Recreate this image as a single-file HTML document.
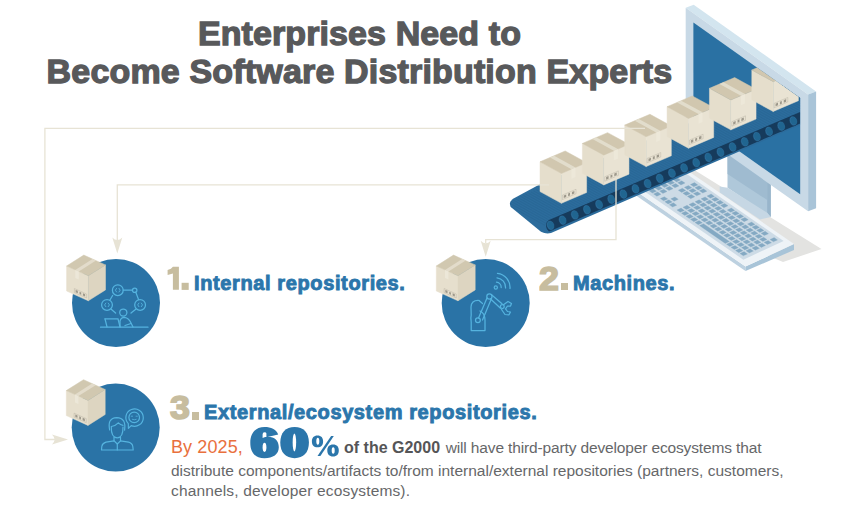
<!DOCTYPE html>
<html><head><meta charset="utf-8"><style>
html,body{margin:0;padding:0;background:#fff;}
body{width:855px;height:506px;position:relative;overflow:hidden;font-family:"Liberation Sans",sans-serif;}
svg{position:absolute;left:0;top:0;}
.t{position:absolute;white-space:nowrap;line-height:1;}
.title{font-weight:700;color:#58595b;font-size:34px;letter-spacing:0.1px;-webkit-text-stroke:1.3px #58595b;left:0;width:719px;text-align:center;}
.num{font-weight:700;color:#c7bd9f;font-size:33.5px;-webkit-text-stroke:1.6px #c7bd9f;transform:scaleX(1.07);transform-origin:0 0;}
.hd{font-weight:700;color:#2b76ab;font-size:20px;letter-spacing:0.62px;-webkit-text-stroke:0.9px #2b76ab;}
.p{color:#666769;font-size:15.5px;}
</style></head><body>
<svg width="855" height="506" viewBox="0 0 855 506">
<polygon points="688.00,166.00 821.50,249.00 783.00,262.00 660.00,210.00" fill="#e3e3e1" />
<polygon points="727.50,150.00 770.80,178.00 770.80,216.90 727.50,187.80" fill="#afc8da" />
<polygon points="727.50,150.00 767.20,176.00 767.20,200.00 727.50,174.00" fill="#9fbbd0" />
<polygon points="767.20,176.00 770.80,178.00 770.80,216.90 767.20,212.70" fill="#98b5cb" />
<polygon points="719.70,186.50 727.50,187.80 767.20,212.70 770.80,216.90 760.00,219.50 719.70,192.50" fill="#c6d7e4" />
<polygon points="625.50,183.80 745.50,266.60 745.50,271.10 625.50,188.30" fill="#bdd1e0" />
<polygon points="745.50,266.60 794.00,244.00 794.00,250.00 745.50,271.10" fill="#a8c4d8" />
<polygon points="625.50,183.80 745.50,266.60 794.00,244.00 674.00,161.20" fill="#eef3f7" />
<polygon points="630.20,181.61 743.36,259.69 783.62,240.93 670.46,162.85" fill="#cddbe6" />
<polygon points="770.01,239.50 773.37,241.82 777.50,239.90 774.13,237.58" fill="#84a9c3" stroke="#84a9c3" stroke-width="0.25" stroke-linejoin="round"/>
<polygon points="761.01,233.29 764.37,235.61 768.50,233.69 765.13,231.37" fill="#84a9c3" stroke="#84a9c3" stroke-width="0.25" stroke-linejoin="round"/>
<polygon points="756.51,230.19 759.87,232.51 764.00,230.58 760.63,228.27" fill="#84a9c3" stroke="#84a9c3" stroke-width="0.25" stroke-linejoin="round"/>
<polygon points="752.01,227.08 755.37,229.40 759.50,227.48 756.13,225.16" fill="#84a9c3" stroke="#84a9c3" stroke-width="0.25" stroke-linejoin="round"/>
<polygon points="747.51,223.98 750.87,226.30 755.00,224.38 751.63,222.06" fill="#84a9c3" stroke="#84a9c3" stroke-width="0.25" stroke-linejoin="round"/>
<polygon points="740.76,219.32 744.12,221.64 748.25,219.72 744.88,217.40" fill="#84a9c3" stroke="#84a9c3" stroke-width="0.25" stroke-linejoin="round"/>
<polygon points="736.26,216.22 739.62,218.53 743.75,216.61 740.38,214.29" fill="#84a9c3" stroke="#84a9c3" stroke-width="0.25" stroke-linejoin="round"/>
<polygon points="731.76,213.11 735.12,215.43 739.25,213.51 735.88,211.19" fill="#84a9c3" stroke="#84a9c3" stroke-width="0.25" stroke-linejoin="round"/>
<polygon points="727.26,210.01 730.62,212.32 734.75,210.40 731.38,208.08" fill="#84a9c3" stroke="#84a9c3" stroke-width="0.25" stroke-linejoin="round"/>
<polygon points="720.51,205.35 723.87,207.67 728.00,205.75 724.63,203.43" fill="#84a9c3" stroke="#84a9c3" stroke-width="0.25" stroke-linejoin="round"/>
<polygon points="716.01,202.24 719.37,204.56 723.50,202.64 720.13,200.32" fill="#84a9c3" stroke="#84a9c3" stroke-width="0.25" stroke-linejoin="round"/>
<polygon points="711.51,199.14 714.87,201.46 719.00,199.53 715.63,197.22" fill="#84a9c3" stroke="#84a9c3" stroke-width="0.25" stroke-linejoin="round"/>
<polygon points="707.01,196.03 710.37,198.35 714.50,196.43 711.13,194.11" fill="#84a9c3" stroke="#84a9c3" stroke-width="0.25" stroke-linejoin="round"/>
<polygon points="699.36,190.75 702.72,193.07 706.85,191.15 703.49,188.83" fill="#84a9c3" stroke="#84a9c3" stroke-width="0.25" stroke-linejoin="round"/>
<polygon points="694.86,187.65 698.22,189.97 702.35,188.05 698.99,185.73" fill="#84a9c3" stroke="#84a9c3" stroke-width="0.25" stroke-linejoin="round"/>
<polygon points="690.36,184.54 693.72,186.86 697.85,184.94 694.49,182.62" fill="#84a9c3" stroke="#84a9c3" stroke-width="0.25" stroke-linejoin="round"/>
<polygon points="745.96,250.71 749.32,253.03 753.44,251.11 750.08,248.79" fill="#84a9c3" stroke="#84a9c3" stroke-width="0.25" stroke-linejoin="round"/>
<polygon points="741.46,247.61 744.82,249.93 748.94,248.00 745.58,245.69" fill="#84a9c3" stroke="#84a9c3" stroke-width="0.25" stroke-linejoin="round"/>
<polygon points="736.96,244.50 740.32,246.82 744.44,244.90 741.08,242.58" fill="#84a9c3" stroke="#84a9c3" stroke-width="0.25" stroke-linejoin="round"/>
<polygon points="732.46,241.40 735.82,243.72 739.94,241.79 736.58,239.48" fill="#84a9c3" stroke="#84a9c3" stroke-width="0.25" stroke-linejoin="round"/>
<polygon points="727.96,238.29 731.32,240.61 735.44,238.69 732.08,236.37" fill="#84a9c3" stroke="#84a9c3" stroke-width="0.25" stroke-linejoin="round"/>
<polygon points="723.46,235.19 726.82,237.51 730.94,235.58 727.58,233.27" fill="#84a9c3" stroke="#84a9c3" stroke-width="0.25" stroke-linejoin="round"/>
<polygon points="718.96,232.08 722.32,234.40 726.44,232.48 723.08,230.16" fill="#84a9c3" stroke="#84a9c3" stroke-width="0.25" stroke-linejoin="round"/>
<polygon points="714.46,228.98 717.82,231.30 721.94,229.37 718.58,227.06" fill="#84a9c3" stroke="#84a9c3" stroke-width="0.25" stroke-linejoin="round"/>
<polygon points="709.96,225.87 713.32,228.19 717.44,226.27 714.08,223.95" fill="#84a9c3" stroke="#84a9c3" stroke-width="0.25" stroke-linejoin="round"/>
<polygon points="705.46,222.77 708.82,225.09 712.94,223.16 709.58,220.85" fill="#84a9c3" stroke="#84a9c3" stroke-width="0.25" stroke-linejoin="round"/>
<polygon points="700.96,219.66 704.32,221.98 708.44,220.06 705.08,217.74" fill="#84a9c3" stroke="#84a9c3" stroke-width="0.25" stroke-linejoin="round"/>
<polygon points="696.46,216.56 699.82,218.88 703.94,216.95 700.58,214.64" fill="#84a9c3" stroke="#84a9c3" stroke-width="0.25" stroke-linejoin="round"/>
<polygon points="691.96,213.45 695.32,215.77 699.44,213.85 696.08,211.53" fill="#84a9c3" stroke="#84a9c3" stroke-width="0.25" stroke-linejoin="round"/>
<polygon points="687.46,210.35 690.82,212.67 694.94,210.74 691.58,208.43" fill="#84a9c3" stroke="#84a9c3" stroke-width="0.25" stroke-linejoin="round"/>
<polygon points="682.96,207.24 686.32,209.56 690.44,207.64 687.08,205.32" fill="#84a9c3" stroke="#84a9c3" stroke-width="0.25" stroke-linejoin="round"/>
<polygon points="751.97,247.91 755.33,250.23 759.45,248.31 756.09,245.99" fill="#84a9c3" stroke="#84a9c3" stroke-width="0.25" stroke-linejoin="round"/>
<polygon points="747.47,244.80 750.83,247.12 754.95,245.20 751.59,242.88" fill="#84a9c3" stroke="#84a9c3" stroke-width="0.25" stroke-linejoin="round"/>
<polygon points="742.97,241.70 746.33,244.02 750.45,242.10 747.09,239.78" fill="#84a9c3" stroke="#84a9c3" stroke-width="0.25" stroke-linejoin="round"/>
<polygon points="738.47,238.59 741.83,240.91 745.95,238.99 742.59,236.67" fill="#84a9c3" stroke="#84a9c3" stroke-width="0.25" stroke-linejoin="round"/>
<polygon points="733.97,235.49 737.33,237.81 741.45,235.89 738.09,233.57" fill="#84a9c3" stroke="#84a9c3" stroke-width="0.25" stroke-linejoin="round"/>
<polygon points="729.47,232.38 732.83,234.70 736.95,232.78 733.59,230.46" fill="#84a9c3" stroke="#84a9c3" stroke-width="0.25" stroke-linejoin="round"/>
<polygon points="724.97,229.28 728.33,231.60 732.45,229.68 729.09,227.36" fill="#84a9c3" stroke="#84a9c3" stroke-width="0.25" stroke-linejoin="round"/>
<polygon points="720.47,226.17 723.83,228.49 727.95,226.57 724.59,224.25" fill="#84a9c3" stroke="#84a9c3" stroke-width="0.25" stroke-linejoin="round"/>
<polygon points="715.97,223.07 719.33,225.39 723.45,223.47 720.09,221.15" fill="#84a9c3" stroke="#84a9c3" stroke-width="0.25" stroke-linejoin="round"/>
<polygon points="711.47,219.96 714.83,222.28 718.95,220.36 715.59,218.04" fill="#84a9c3" stroke="#84a9c3" stroke-width="0.25" stroke-linejoin="round"/>
<polygon points="706.97,216.86 710.33,219.18 714.45,217.26 711.09,214.94" fill="#84a9c3" stroke="#84a9c3" stroke-width="0.25" stroke-linejoin="round"/>
<polygon points="702.47,213.75 705.83,216.07 709.95,214.15 706.59,211.83" fill="#84a9c3" stroke="#84a9c3" stroke-width="0.25" stroke-linejoin="round"/>
<polygon points="697.97,210.65 701.33,212.97 705.45,211.05 702.09,208.73" fill="#84a9c3" stroke="#84a9c3" stroke-width="0.25" stroke-linejoin="round"/>
<polygon points="693.47,207.54 696.83,209.86 700.95,207.94 697.59,205.62" fill="#84a9c3" stroke="#84a9c3" stroke-width="0.25" stroke-linejoin="round"/>
<polygon points="688.97,204.44 692.33,206.76 696.45,204.84 693.09,202.52" fill="#84a9c3" stroke="#84a9c3" stroke-width="0.25" stroke-linejoin="round"/>
<polygon points="757.98,245.11 761.34,247.43 765.47,245.50 762.11,243.19" fill="#84a9c3" stroke="#84a9c3" stroke-width="0.25" stroke-linejoin="round"/>
<polygon points="753.48,242.00 756.84,244.32 760.97,242.40 757.61,240.08" fill="#84a9c3" stroke="#84a9c3" stroke-width="0.25" stroke-linejoin="round"/>
<polygon points="748.98,238.90 752.34,241.22 756.47,239.29 753.11,236.98" fill="#84a9c3" stroke="#84a9c3" stroke-width="0.25" stroke-linejoin="round"/>
<polygon points="744.48,235.79 747.84,238.11 751.97,236.19 748.61,233.87" fill="#84a9c3" stroke="#84a9c3" stroke-width="0.25" stroke-linejoin="round"/>
<polygon points="739.98,232.69 743.34,235.01 747.47,233.08 744.11,230.77" fill="#84a9c3" stroke="#84a9c3" stroke-width="0.25" stroke-linejoin="round"/>
<polygon points="735.48,229.58 738.84,231.90 742.97,229.98 739.61,227.66" fill="#84a9c3" stroke="#84a9c3" stroke-width="0.25" stroke-linejoin="round"/>
<polygon points="730.98,226.48 734.34,228.80 738.47,226.87 735.11,224.56" fill="#84a9c3" stroke="#84a9c3" stroke-width="0.25" stroke-linejoin="round"/>
<polygon points="726.48,223.37 729.84,225.69 733.97,223.77 730.61,221.45" fill="#84a9c3" stroke="#84a9c3" stroke-width="0.25" stroke-linejoin="round"/>
<polygon points="721.98,220.27 725.34,222.59 729.47,220.66 726.11,218.35" fill="#84a9c3" stroke="#84a9c3" stroke-width="0.25" stroke-linejoin="round"/>
<polygon points="717.48,217.16 720.84,219.48 724.97,217.56 721.61,215.24" fill="#84a9c3" stroke="#84a9c3" stroke-width="0.25" stroke-linejoin="round"/>
<polygon points="712.98,214.06 716.34,216.38 720.47,214.45 717.11,212.14" fill="#84a9c3" stroke="#84a9c3" stroke-width="0.25" stroke-linejoin="round"/>
<polygon points="708.48,210.95 711.84,213.27 715.97,211.35 712.61,209.03" fill="#84a9c3" stroke="#84a9c3" stroke-width="0.25" stroke-linejoin="round"/>
<polygon points="703.98,207.85 707.34,210.17 711.47,208.24 708.11,205.93" fill="#84a9c3" stroke="#84a9c3" stroke-width="0.25" stroke-linejoin="round"/>
<polygon points="699.48,204.74 702.84,207.06 706.97,205.14 703.61,202.82" fill="#84a9c3" stroke="#84a9c3" stroke-width="0.25" stroke-linejoin="round"/>
<polygon points="694.98,201.64 698.34,203.96 702.47,202.03 699.11,199.72" fill="#84a9c3" stroke="#84a9c3" stroke-width="0.25" stroke-linejoin="round"/>
<polygon points="764.00,242.31 767.36,244.62 771.48,242.70 768.12,240.38" fill="#84a9c3" stroke="#84a9c3" stroke-width="0.25" stroke-linejoin="round"/>
<polygon points="759.50,239.20 762.86,241.52 766.98,239.60 763.62,237.28" fill="#84a9c3" stroke="#84a9c3" stroke-width="0.25" stroke-linejoin="round"/>
<polygon points="755.00,236.09 758.36,238.41 762.48,236.49 759.12,234.17" fill="#84a9c3" stroke="#84a9c3" stroke-width="0.25" stroke-linejoin="round"/>
<polygon points="750.50,232.99 753.86,235.31 757.98,233.39 754.62,231.07" fill="#84a9c3" stroke="#84a9c3" stroke-width="0.25" stroke-linejoin="round"/>
<polygon points="746.00,229.88 749.36,232.20 753.48,230.28 750.12,227.96" fill="#84a9c3" stroke="#84a9c3" stroke-width="0.25" stroke-linejoin="round"/>
<polygon points="741.50,226.78 744.86,229.10 748.98,227.18 745.62,224.86" fill="#84a9c3" stroke="#84a9c3" stroke-width="0.25" stroke-linejoin="round"/>
<polygon points="737.00,223.68 740.36,225.99 744.48,224.07 741.12,221.75" fill="#84a9c3" stroke="#84a9c3" stroke-width="0.25" stroke-linejoin="round"/>
<polygon points="732.50,220.57 735.86,222.89 739.98,220.97 736.62,218.65" fill="#84a9c3" stroke="#84a9c3" stroke-width="0.25" stroke-linejoin="round"/>
<polygon points="728.00,217.47 731.36,219.78 735.48,217.86 732.12,215.54" fill="#84a9c3" stroke="#84a9c3" stroke-width="0.25" stroke-linejoin="round"/>
<polygon points="723.50,214.36 726.86,216.68 730.98,214.76 727.62,212.44" fill="#84a9c3" stroke="#84a9c3" stroke-width="0.25" stroke-linejoin="round"/>
<polygon points="719.00,211.25 722.36,213.57 726.48,211.65 723.12,209.33" fill="#84a9c3" stroke="#84a9c3" stroke-width="0.25" stroke-linejoin="round"/>
<polygon points="714.50,208.15 717.86,210.47 721.98,208.55 718.62,206.23" fill="#84a9c3" stroke="#84a9c3" stroke-width="0.25" stroke-linejoin="round"/>
<polygon points="710.00,205.05 713.36,207.36 717.48,205.44 714.12,203.12" fill="#84a9c3" stroke="#84a9c3" stroke-width="0.25" stroke-linejoin="round"/>
<polygon points="705.50,201.94 708.86,204.26 712.98,202.34 709.62,200.02" fill="#84a9c3" stroke="#84a9c3" stroke-width="0.25" stroke-linejoin="round"/>
<polygon points="701.00,198.84 704.36,201.15 708.48,199.23 705.12,196.91" fill="#84a9c3" stroke="#84a9c3" stroke-width="0.25" stroke-linejoin="round"/>
<polygon points="739.94,253.51 743.30,255.83 747.42,253.91 744.07,251.59" fill="#84a9c3" stroke="#84a9c3" stroke-width="0.25" stroke-linejoin="round"/>
<polygon points="735.44,250.41 738.80,252.73 742.92,250.81 739.57,248.49" fill="#84a9c3" stroke="#84a9c3" stroke-width="0.25" stroke-linejoin="round"/>
<polygon points="730.94,247.30 734.30,249.62 738.42,247.70 735.07,245.38" fill="#84a9c3" stroke="#84a9c3" stroke-width="0.25" stroke-linejoin="round"/>
<polygon points="726.44,244.20 729.80,246.52 733.92,244.60 730.57,242.28" fill="#84a9c3" stroke="#84a9c3" stroke-width="0.25" stroke-linejoin="round"/>
<polygon points="694.94,222.46 698.30,224.78 702.42,222.86 699.07,220.54" fill="#84a9c3" stroke="#84a9c3" stroke-width="0.25" stroke-linejoin="round"/>
<polygon points="690.44,219.36 693.80,221.68 697.92,219.76 694.57,217.44" fill="#84a9c3" stroke="#84a9c3" stroke-width="0.25" stroke-linejoin="round"/>
<polygon points="685.94,216.25 689.30,218.57 693.42,216.65 690.07,214.33" fill="#84a9c3" stroke="#84a9c3" stroke-width="0.25" stroke-linejoin="round"/>
<polygon points="681.44,213.15 684.80,215.47 688.92,213.55 685.57,211.23" fill="#84a9c3" stroke="#84a9c3" stroke-width="0.25" stroke-linejoin="round"/>
<polygon points="676.94,210.04 680.30,212.36 684.42,210.44 681.07,208.12" fill="#84a9c3" stroke="#84a9c3" stroke-width="0.25" stroke-linejoin="round"/>
<polygon points="699.44,225.57 725.30,243.41 729.42,241.49 703.57,223.65" fill="#84a9c3" stroke="#84a9c3" stroke-width="0.25" stroke-linejoin="round"/>
<polygon points="687.33,196.36 690.69,198.68 694.82,196.76 691.46,194.44" fill="#84a9c3" stroke="#84a9c3" stroke-width="0.25" stroke-linejoin="round"/>
<polygon points="682.83,193.25 686.19,195.57 690.32,193.65 686.96,191.33" fill="#84a9c3" stroke="#84a9c3" stroke-width="0.25" stroke-linejoin="round"/>
<polygon points="678.33,190.15 681.69,192.47 685.82,190.55 682.46,188.23" fill="#84a9c3" stroke="#84a9c3" stroke-width="0.25" stroke-linejoin="round"/>
<polygon points="693.35,193.56 696.71,195.87 700.83,193.95 697.47,191.64" fill="#84a9c3" stroke="#84a9c3" stroke-width="0.25" stroke-linejoin="round"/>
<polygon points="688.85,190.45 692.21,192.77 696.33,190.85 692.97,188.53" fill="#84a9c3" stroke="#84a9c3" stroke-width="0.25" stroke-linejoin="round"/>
<polygon points="684.35,187.35 687.71,189.66 691.83,187.74 688.47,185.43" fill="#84a9c3" stroke="#84a9c3" stroke-width="0.25" stroke-linejoin="round"/>
<polygon points="670.81,198.86 674.17,201.18 678.29,199.26 674.93,196.94" fill="#84a9c3" stroke="#84a9c3" stroke-width="0.25" stroke-linejoin="round"/>
<polygon points="669.29,204.77 672.65,207.08 676.77,205.16 673.41,202.85" fill="#84a9c3" stroke="#84a9c3" stroke-width="0.25" stroke-linejoin="round"/>
<polygon points="664.79,201.66 668.15,203.98 672.27,202.06 668.91,199.74" fill="#84a9c3" stroke="#84a9c3" stroke-width="0.25" stroke-linejoin="round"/>
<polygon points="660.29,198.56 663.65,200.87 667.77,198.95 664.41,196.64" fill="#84a9c3" stroke="#84a9c3" stroke-width="0.25" stroke-linejoin="round"/>
<polygon points="659.56,191.10 662.92,193.41 667.04,191.49 663.68,189.18" fill="#84a9c3" stroke="#84a9c3" stroke-width="0.25" stroke-linejoin="round"/>
<polygon points="655.06,187.99 658.42,190.31 662.54,188.39 659.18,186.07" fill="#84a9c3" stroke="#84a9c3" stroke-width="0.25" stroke-linejoin="round"/>
<polygon points="650.56,184.89 653.92,187.20 658.04,185.28 654.68,182.97" fill="#84a9c3" stroke="#84a9c3" stroke-width="0.25" stroke-linejoin="round"/>
<polygon points="646.06,181.78 649.42,184.10 653.54,182.18 650.18,179.86" fill="#84a9c3" stroke="#84a9c3" stroke-width="0.25" stroke-linejoin="round"/>
<polygon points="665.57,188.29 668.93,190.61 673.05,188.69 669.69,186.37" fill="#84a9c3" stroke="#84a9c3" stroke-width="0.25" stroke-linejoin="round"/>
<polygon points="661.07,185.19 664.43,187.51 668.55,185.59 665.19,183.27" fill="#84a9c3" stroke="#84a9c3" stroke-width="0.25" stroke-linejoin="round"/>
<polygon points="656.57,182.08 659.93,184.40 664.05,182.48 660.69,180.16" fill="#84a9c3" stroke="#84a9c3" stroke-width="0.25" stroke-linejoin="round"/>
<polygon points="652.07,178.98 655.43,181.30 659.55,179.38 656.19,177.06" fill="#84a9c3" stroke="#84a9c3" stroke-width="0.25" stroke-linejoin="round"/>
<polygon points="671.58,185.49 674.94,187.81 679.07,185.89 675.71,183.57" fill="#84a9c3" stroke="#84a9c3" stroke-width="0.25" stroke-linejoin="round"/>
<polygon points="667.08,182.39 670.44,184.70 674.57,182.78 671.21,180.47" fill="#84a9c3" stroke="#84a9c3" stroke-width="0.25" stroke-linejoin="round"/>
<polygon points="662.58,179.28 665.94,181.60 670.07,179.68 666.71,177.36" fill="#84a9c3" stroke="#84a9c3" stroke-width="0.25" stroke-linejoin="round"/>
<polygon points="658.08,176.18 661.44,178.49 665.57,176.57 662.21,174.26" fill="#84a9c3" stroke="#84a9c3" stroke-width="0.25" stroke-linejoin="round"/>
<polygon points="677.60,182.69 680.96,185.01 685.08,183.09 681.72,180.77" fill="#84a9c3" stroke="#84a9c3" stroke-width="0.25" stroke-linejoin="round"/>
<polygon points="673.10,179.58 676.46,181.90 680.58,179.98 677.22,177.66" fill="#84a9c3" stroke="#84a9c3" stroke-width="0.25" stroke-linejoin="round"/>
<polygon points="668.60,176.48 671.96,178.80 676.08,176.88 672.72,174.56" fill="#84a9c3" stroke="#84a9c3" stroke-width="0.25" stroke-linejoin="round"/>
<polygon points="664.10,173.37 667.46,175.69 671.58,173.77 668.22,171.45" fill="#84a9c3" stroke="#84a9c3" stroke-width="0.25" stroke-linejoin="round"/>
<polygon points="653.54,193.90 656.90,196.22 661.02,194.30 657.66,191.98" fill="#84a9c3" stroke="#84a9c3" stroke-width="0.25" stroke-linejoin="round"/>
<polygon points="649.04,190.79 652.40,193.11 656.52,191.19 653.16,188.87" fill="#84a9c3" stroke="#84a9c3" stroke-width="0.25" stroke-linejoin="round"/>
<polygon points="640.04,184.58 643.40,186.90 647.52,184.98 644.16,182.66" fill="#84a9c3" stroke="#84a9c3" stroke-width="0.25" stroke-linejoin="round"/>
<polygon points="685.70,7.70 693.70,4.70 816.10,91.40 808.10,94.40" fill="#d3e5ef" />
<polygon points="808.10,94.40 816.10,91.40 816.10,208.30 808.10,211.30" fill="#a9c4d8" />
<polygon points="685.70,7.70 808.10,94.40 808.10,211.30 685.70,124.60" fill="#c8d9e6" />
<polygon points="693.40,22.50 800.20,98.00 800.20,194.30 693.40,118.80" fill="#2a71a3" />
<defs><clipPath id="beltClip"><polygon points="0,0 693.4,0 693.4,22.5 800.2,98 800.2,506 0,506"/></clipPath><clipPath id="beltTop"><path d="M 800.2,78.14 L 545,181.5 L 514,198.2 Q 508,201.8 510.8,207 L 541,231.8 Q 546,234.3 551,233 L 800.2,124.93 Z"/></clipPath></defs>
<g clip-path="url(#beltClip)"><path d="M 800.2,78.14 L 545,181.5 L 514,198.2 Q 508,201.8 510.8,207 L 541,231.8 Q 546,234.3 551,233 L 800.2,124.93 Z" fill="#2c6c9c"/>
<g stroke="#286594" stroke-width="0.7" clip-path="url(#beltTop)"><line x1="505.0" y1="203.2" x2="545.0" y2="225.4"/><line x1="507.6" y1="202.0" x2="547.6" y2="224.3"/><line x1="510.2" y1="200.9" x2="550.2" y2="223.2"/><line x1="512.8" y1="199.8" x2="552.8" y2="222.1"/><line x1="515.4" y1="198.7" x2="555.4" y2="221.0"/><line x1="518.0" y1="197.6" x2="558.0" y2="219.8"/><line x1="520.6" y1="196.4" x2="560.6" y2="218.7"/><line x1="523.2" y1="195.3" x2="563.2" y2="217.6"/><line x1="525.8" y1="194.2" x2="565.8" y2="216.5"/><line x1="528.4" y1="193.1" x2="568.4" y2="215.4"/><line x1="531.0" y1="192.0" x2="571.0" y2="214.2"/><line x1="533.6" y1="190.9" x2="573.6" y2="213.1"/><line x1="536.2" y1="189.7" x2="576.2" y2="212.0"/><line x1="538.8" y1="188.6" x2="578.8" y2="210.9"/><line x1="541.4" y1="187.5" x2="581.4" y2="209.8"/><line x1="544.0" y1="186.4" x2="584.0" y2="208.7"/><line x1="546.6" y1="185.3" x2="586.6" y2="207.5"/><line x1="549.2" y1="184.1" x2="589.2" y2="206.4"/><line x1="551.8" y1="183.0" x2="591.8" y2="205.3"/><line x1="554.4" y1="181.9" x2="594.4" y2="204.2"/><line x1="557.0" y1="180.8" x2="597.0" y2="203.1"/><line x1="559.6" y1="179.7" x2="599.6" y2="202.0"/><line x1="562.2" y1="178.6" x2="602.2" y2="200.8"/><line x1="564.8" y1="177.4" x2="604.8" y2="199.7"/><line x1="567.4" y1="176.3" x2="607.4" y2="198.6"/><line x1="570.0" y1="175.2" x2="610.0" y2="197.5"/><line x1="572.6" y1="174.1" x2="612.6" y2="196.4"/><line x1="575.2" y1="173.0" x2="615.2" y2="195.2"/><line x1="577.8" y1="171.8" x2="617.8" y2="194.1"/><line x1="580.4" y1="170.7" x2="620.4" y2="193.0"/><line x1="583.0" y1="169.6" x2="623.0" y2="191.9"/><line x1="585.6" y1="168.5" x2="625.6" y2="190.8"/><line x1="588.2" y1="167.4" x2="628.2" y2="189.7"/><line x1="590.8" y1="166.3" x2="630.8" y2="188.5"/><line x1="593.4" y1="165.1" x2="633.4" y2="187.4"/><line x1="596.0" y1="164.0" x2="636.0" y2="186.3"/><line x1="598.6" y1="162.9" x2="638.6" y2="185.2"/><line x1="601.2" y1="161.8" x2="641.2" y2="184.1"/><line x1="603.8" y1="160.7" x2="643.8" y2="182.9"/><line x1="606.4" y1="159.5" x2="646.4" y2="181.8"/><line x1="609.0" y1="158.4" x2="649.0" y2="180.7"/><line x1="611.6" y1="157.3" x2="651.6" y2="179.6"/><line x1="614.2" y1="156.2" x2="654.2" y2="178.5"/><line x1="616.8" y1="155.1" x2="656.8" y2="177.4"/><line x1="619.4" y1="154.0" x2="659.4" y2="176.2"/><line x1="622.0" y1="152.8" x2="662.0" y2="175.1"/><line x1="624.6" y1="151.7" x2="664.6" y2="174.0"/><line x1="627.2" y1="150.6" x2="667.2" y2="172.9"/><line x1="629.8" y1="149.5" x2="669.8" y2="171.8"/><line x1="632.4" y1="148.4" x2="672.4" y2="170.6"/><line x1="635.0" y1="147.2" x2="675.0" y2="169.5"/><line x1="637.6" y1="146.1" x2="677.6" y2="168.4"/><line x1="640.2" y1="145.0" x2="680.2" y2="167.3"/><line x1="642.8" y1="143.9" x2="682.8" y2="166.2"/><line x1="645.4" y1="142.8" x2="685.4" y2="165.1"/><line x1="648.0" y1="141.7" x2="688.0" y2="163.9"/><line x1="650.6" y1="140.5" x2="690.6" y2="162.8"/><line x1="653.2" y1="139.4" x2="693.2" y2="161.7"/><line x1="655.8" y1="138.3" x2="695.8" y2="160.6"/><line x1="658.4" y1="137.2" x2="698.4" y2="159.5"/><line x1="661.0" y1="136.1" x2="701.0" y2="158.3"/><line x1="663.6" y1="135.0" x2="703.6" y2="157.2"/><line x1="666.2" y1="133.8" x2="706.2" y2="156.1"/><line x1="668.8" y1="132.7" x2="708.8" y2="155.0"/><line x1="671.4" y1="131.6" x2="711.4" y2="153.9"/><line x1="674.0" y1="130.5" x2="714.0" y2="152.8"/><line x1="676.6" y1="129.4" x2="716.6" y2="151.6"/><line x1="679.2" y1="128.2" x2="719.2" y2="150.5"/><line x1="681.8" y1="127.1" x2="721.8" y2="149.4"/><line x1="684.4" y1="126.0" x2="724.4" y2="148.3"/><line x1="687.0" y1="124.9" x2="727.0" y2="147.2"/><line x1="689.6" y1="123.8" x2="729.6" y2="146.1"/><line x1="692.2" y1="122.7" x2="732.2" y2="144.9"/><line x1="694.8" y1="121.5" x2="734.8" y2="143.8"/><line x1="697.4" y1="120.4" x2="737.4" y2="142.7"/><line x1="700.0" y1="119.3" x2="740.0" y2="141.6"/><line x1="702.6" y1="118.2" x2="742.6" y2="140.5"/><line x1="705.2" y1="117.1" x2="745.2" y2="139.3"/><line x1="707.8" y1="115.9" x2="747.8" y2="138.2"/><line x1="710.4" y1="114.8" x2="750.4" y2="137.1"/><line x1="713.0" y1="113.7" x2="753.0" y2="136.0"/><line x1="715.6" y1="112.6" x2="755.6" y2="134.9"/><line x1="718.2" y1="111.5" x2="758.2" y2="133.8"/><line x1="720.8" y1="110.4" x2="760.8" y2="132.6"/><line x1="723.4" y1="109.2" x2="763.4" y2="131.5"/><line x1="726.0" y1="108.1" x2="766.0" y2="130.4"/><line x1="728.6" y1="107.0" x2="768.6" y2="129.3"/><line x1="731.2" y1="105.9" x2="771.2" y2="128.2"/><line x1="733.8" y1="104.8" x2="773.8" y2="127.0"/><line x1="736.4" y1="103.6" x2="776.4" y2="125.9"/><line x1="739.0" y1="102.5" x2="779.0" y2="124.8"/><line x1="741.6" y1="101.4" x2="781.6" y2="123.7"/><line x1="744.2" y1="100.3" x2="784.2" y2="122.6"/><line x1="746.8" y1="99.2" x2="786.8" y2="121.5"/><line x1="749.4" y1="98.1" x2="789.4" y2="120.3"/><line x1="752.0" y1="96.9" x2="792.0" y2="119.2"/><line x1="754.6" y1="95.8" x2="794.6" y2="118.1"/><line x1="757.2" y1="94.7" x2="797.2" y2="117.0"/><line x1="759.8" y1="93.6" x2="799.8" y2="115.9"/><line x1="762.4" y1="92.5" x2="802.4" y2="114.7"/><line x1="765.0" y1="91.4" x2="805.0" y2="113.6"/><line x1="767.6" y1="90.2" x2="807.6" y2="112.5"/><line x1="770.2" y1="89.1" x2="810.2" y2="111.4"/><line x1="772.8" y1="88.0" x2="812.8" y2="110.3"/><line x1="775.4" y1="86.9" x2="815.4" y2="109.2"/><line x1="778.0" y1="85.8" x2="818.0" y2="108.0"/><line x1="780.6" y1="84.6" x2="820.6" y2="106.9"/><line x1="783.2" y1="83.5" x2="823.2" y2="105.8"/><line x1="785.8" y1="82.4" x2="825.8" y2="104.7"/><line x1="788.4" y1="81.3" x2="828.4" y2="103.6"/><line x1="791.0" y1="80.2" x2="831.0" y2="102.5"/><line x1="793.6" y1="79.1" x2="833.6" y2="101.3"/><line x1="796.2" y1="77.9" x2="836.2" y2="100.2"/><line x1="798.8" y1="76.8" x2="838.8" y2="99.1"/><line x1="801.4" y1="75.7" x2="841.4" y2="98.0"/><line x1="804.0" y1="74.6" x2="844.0" y2="96.9"/><line x1="806.6" y1="73.5" x2="846.6" y2="95.7"/><line x1="809.2" y1="72.3" x2="849.2" y2="94.6"/><line x1="811.8" y1="71.2" x2="851.8" y2="93.5"/><line x1="814.4" y1="70.1" x2="854.4" y2="92.4"/></g>
<path d="M 800.2,111.93 L 549,220.05 Q 543.5,227.34 549,231.55 L 800.2,123.43 Z" fill="#163b5c"/>
<ellipse cx="550.50" cy="225.40" rx="3.9" ry="5.0" fill="#2b6b99" stroke="#153a5a" stroke-width="0.5" transform="rotate(-20 550.50 225.40)"/>
<ellipse cx="550.90" cy="225.40" rx="2.9" ry="3.8" fill="#206590" transform="rotate(-20 550.50 225.40)"/>
<ellipse cx="562.64" cy="220.17" rx="3.9" ry="5.0" fill="#2b6b99" stroke="#153a5a" stroke-width="0.5" transform="rotate(-20 562.64 220.17)"/>
<ellipse cx="563.04" cy="220.17" rx="2.9" ry="3.8" fill="#206590" transform="rotate(-20 562.64 220.17)"/>
<ellipse cx="574.78" cy="214.95" rx="3.9" ry="5.0" fill="#2b6b99" stroke="#153a5a" stroke-width="0.5" transform="rotate(-20 574.78 214.95)"/>
<ellipse cx="575.18" cy="214.95" rx="2.9" ry="3.8" fill="#206590" transform="rotate(-20 574.78 214.95)"/>
<ellipse cx="586.92" cy="209.72" rx="3.9" ry="5.0" fill="#2b6b99" stroke="#153a5a" stroke-width="0.5" transform="rotate(-20 586.92 209.72)"/>
<ellipse cx="587.32" cy="209.72" rx="2.9" ry="3.8" fill="#206590" transform="rotate(-20 586.92 209.72)"/>
<ellipse cx="599.06" cy="204.50" rx="3.9" ry="5.0" fill="#2b6b99" stroke="#153a5a" stroke-width="0.5" transform="rotate(-20 599.06 204.50)"/>
<ellipse cx="599.46" cy="204.50" rx="2.9" ry="3.8" fill="#206590" transform="rotate(-20 599.06 204.50)"/>
<ellipse cx="611.20" cy="199.27" rx="3.9" ry="5.0" fill="#2b6b99" stroke="#153a5a" stroke-width="0.5" transform="rotate(-20 611.20 199.27)"/>
<ellipse cx="611.60" cy="199.27" rx="2.9" ry="3.8" fill="#206590" transform="rotate(-20 611.20 199.27)"/>
<ellipse cx="623.34" cy="194.05" rx="3.9" ry="5.0" fill="#2b6b99" stroke="#153a5a" stroke-width="0.5" transform="rotate(-20 623.34 194.05)"/>
<ellipse cx="623.74" cy="194.05" rx="2.9" ry="3.8" fill="#206590" transform="rotate(-20 623.34 194.05)"/>
<ellipse cx="635.48" cy="188.82" rx="3.9" ry="5.0" fill="#2b6b99" stroke="#153a5a" stroke-width="0.5" transform="rotate(-20 635.48 188.82)"/>
<ellipse cx="635.88" cy="188.82" rx="2.9" ry="3.8" fill="#206590" transform="rotate(-20 635.48 188.82)"/>
<ellipse cx="647.62" cy="183.60" rx="3.9" ry="5.0" fill="#2b6b99" stroke="#153a5a" stroke-width="0.5" transform="rotate(-20 647.62 183.60)"/>
<ellipse cx="648.02" cy="183.60" rx="2.9" ry="3.8" fill="#206590" transform="rotate(-20 647.62 183.60)"/>
<ellipse cx="659.76" cy="178.37" rx="3.9" ry="5.0" fill="#2b6b99" stroke="#153a5a" stroke-width="0.5" transform="rotate(-20 659.76 178.37)"/>
<ellipse cx="660.16" cy="178.37" rx="2.9" ry="3.8" fill="#206590" transform="rotate(-20 659.76 178.37)"/>
<ellipse cx="671.90" cy="173.15" rx="3.9" ry="5.0" fill="#2b6b99" stroke="#153a5a" stroke-width="0.5" transform="rotate(-20 671.90 173.15)"/>
<ellipse cx="672.30" cy="173.15" rx="2.9" ry="3.8" fill="#206590" transform="rotate(-20 671.90 173.15)"/>
<ellipse cx="684.04" cy="167.92" rx="3.9" ry="5.0" fill="#2b6b99" stroke="#153a5a" stroke-width="0.5" transform="rotate(-20 684.04 167.92)"/>
<ellipse cx="684.44" cy="167.92" rx="2.9" ry="3.8" fill="#206590" transform="rotate(-20 684.04 167.92)"/>
<ellipse cx="696.18" cy="162.70" rx="3.9" ry="5.0" fill="#2b6b99" stroke="#153a5a" stroke-width="0.5" transform="rotate(-20 696.18 162.70)"/>
<ellipse cx="696.58" cy="162.70" rx="2.9" ry="3.8" fill="#206590" transform="rotate(-20 696.18 162.70)"/>
<ellipse cx="708.32" cy="157.47" rx="3.9" ry="5.0" fill="#2b6b99" stroke="#153a5a" stroke-width="0.5" transform="rotate(-20 708.32 157.47)"/>
<ellipse cx="708.72" cy="157.47" rx="2.9" ry="3.8" fill="#206590" transform="rotate(-20 708.32 157.47)"/>
<ellipse cx="720.46" cy="152.25" rx="3.9" ry="5.0" fill="#2b6b99" stroke="#153a5a" stroke-width="0.5" transform="rotate(-20 720.46 152.25)"/>
<ellipse cx="720.86" cy="152.25" rx="2.9" ry="3.8" fill="#206590" transform="rotate(-20 720.46 152.25)"/>
<ellipse cx="732.60" cy="147.02" rx="3.9" ry="5.0" fill="#2b6b99" stroke="#153a5a" stroke-width="0.5" transform="rotate(-20 732.60 147.02)"/>
<ellipse cx="733.00" cy="147.02" rx="2.9" ry="3.8" fill="#206590" transform="rotate(-20 732.60 147.02)"/>
<ellipse cx="744.74" cy="141.80" rx="3.9" ry="5.0" fill="#2b6b99" stroke="#153a5a" stroke-width="0.5" transform="rotate(-20 744.74 141.80)"/>
<ellipse cx="745.14" cy="141.80" rx="2.9" ry="3.8" fill="#206590" transform="rotate(-20 744.74 141.80)"/>
<ellipse cx="756.88" cy="136.57" rx="3.9" ry="5.0" fill="#2b6b99" stroke="#153a5a" stroke-width="0.5" transform="rotate(-20 756.88 136.57)"/>
<ellipse cx="757.28" cy="136.57" rx="2.9" ry="3.8" fill="#206590" transform="rotate(-20 756.88 136.57)"/>
<ellipse cx="769.02" cy="131.35" rx="3.9" ry="5.0" fill="#2b6b99" stroke="#153a5a" stroke-width="0.5" transform="rotate(-20 769.02 131.35)"/>
<ellipse cx="769.42" cy="131.35" rx="2.9" ry="3.8" fill="#206590" transform="rotate(-20 769.02 131.35)"/>
<ellipse cx="781.16" cy="126.12" rx="3.9" ry="5.0" fill="#2b6b99" stroke="#153a5a" stroke-width="0.5" transform="rotate(-20 781.16 126.12)"/>
<ellipse cx="781.56" cy="126.12" rx="2.9" ry="3.8" fill="#206590" transform="rotate(-20 781.16 126.12)"/>
<ellipse cx="793.30" cy="120.90" rx="3.9" ry="5.0" fill="#2b6b99" stroke="#153a5a" stroke-width="0.5" transform="rotate(-20 793.30 120.90)"/>
<ellipse cx="793.70" cy="120.90" rx="2.9" ry="3.8" fill="#206590" transform="rotate(-20 793.30 120.90)"/>
<polygon points="540.00,161.80 561.40,173.50 561.40,203.30 540.00,191.60" fill="#e5decc" stroke="#e5decc" stroke-width="0.5" stroke-linejoin="round"/>
<polygon points="561.40,173.50 586.60,162.70 586.60,192.50 561.40,203.30" fill="#e9e3d3" stroke="#e9e3d3" stroke-width="0.5" stroke-linejoin="round"/>
<polygon points="540.00,161.80 565.20,151.00 586.60,162.70 561.40,173.50" fill="#d1c7af" stroke="#d1c7af" stroke-width="0.5" stroke-linejoin="round"/>
<polygon points="550.08,157.48 554.11,155.75 575.51,167.45 571.48,169.18" fill="#e2ddcc" />
<polygon points="571.48,169.18 575.51,167.45 575.51,176.99 571.48,178.72" fill="#ede8d9" />
<polygon points="562.41,195.12 576.02,189.29 576.02,193.76 562.41,199.59" fill="none" stroke="#aaa597" stroke-width="0.35"/><polygon points="563.77,195.43 566.22,194.38 566.22,197.06 563.77,198.11" fill="#9d988b" /><polygon points="568.12,193.56 570.03,192.75 570.03,195.43 568.12,196.25" fill="#9d988b" /><polygon points="571.93,191.93 574.38,190.88 574.38,193.56 571.93,194.61" fill="#9d988b" />
<polygon points="582.36,143.44 603.76,155.14 603.76,184.94 582.36,173.24" fill="#e5decc" stroke="#e5decc" stroke-width="0.5" stroke-linejoin="round"/>
<polygon points="603.76,155.14 628.96,144.34 628.96,174.14 603.76,184.94" fill="#e9e3d3" stroke="#e9e3d3" stroke-width="0.5" stroke-linejoin="round"/>
<polygon points="582.36,143.44 607.56,132.64 628.96,144.34 603.76,155.14" fill="#d1c7af" stroke="#d1c7af" stroke-width="0.5" stroke-linejoin="round"/>
<polygon points="592.44,139.12 596.47,137.39 617.87,149.09 613.84,150.82" fill="#e2ddcc" />
<polygon points="613.84,150.82 617.87,149.09 617.87,158.63 613.84,160.36" fill="#ede8d9" />
<polygon points="604.77,176.76 618.38,170.93 618.38,175.40 604.77,181.23" fill="none" stroke="#aaa597" stroke-width="0.35"/><polygon points="606.13,177.07 608.58,176.02 608.58,178.70 606.13,179.75" fill="#9d988b" /><polygon points="610.48,175.20 612.39,174.39 612.39,177.07 610.48,177.89" fill="#9d988b" /><polygon points="614.29,173.57 616.74,172.52 616.74,175.20 614.29,176.25" fill="#9d988b" />
<polygon points="624.72,125.08 646.12,136.78 646.12,166.58 624.72,154.88" fill="#e5decc" stroke="#e5decc" stroke-width="0.5" stroke-linejoin="round"/>
<polygon points="646.12,136.78 671.32,125.98 671.32,155.78 646.12,166.58" fill="#e9e3d3" stroke="#e9e3d3" stroke-width="0.5" stroke-linejoin="round"/>
<polygon points="624.72,125.08 649.92,114.28 671.32,125.98 646.12,136.78" fill="#d1c7af" stroke="#d1c7af" stroke-width="0.5" stroke-linejoin="round"/>
<polygon points="634.80,120.76 638.83,119.03 660.23,130.73 656.20,132.46" fill="#e2ddcc" />
<polygon points="656.20,132.46 660.23,130.73 660.23,140.27 656.20,142.00" fill="#ede8d9" />
<polygon points="647.13,158.40 660.74,152.57 660.74,157.04 647.13,162.87" fill="none" stroke="#aaa597" stroke-width="0.35"/><polygon points="648.49,158.71 650.94,157.66 650.94,160.34 648.49,161.39" fill="#9d988b" /><polygon points="652.84,156.84 654.75,156.03 654.75,158.71 652.84,159.53" fill="#9d988b" /><polygon points="656.65,155.21 659.10,154.16 659.10,156.84 656.65,157.89" fill="#9d988b" />
<polygon points="667.08,106.72 688.48,118.42 688.48,148.22 667.08,136.52" fill="#e5decc" stroke="#e5decc" stroke-width="0.5" stroke-linejoin="round"/>
<polygon points="688.48,118.42 713.68,107.62 713.68,137.42 688.48,148.22" fill="#e9e3d3" stroke="#e9e3d3" stroke-width="0.5" stroke-linejoin="round"/>
<polygon points="667.08,106.72 692.28,95.92 713.68,107.62 688.48,118.42" fill="#d1c7af" stroke="#d1c7af" stroke-width="0.5" stroke-linejoin="round"/>
<polygon points="677.16,102.40 681.19,100.67 702.59,112.37 698.56,114.10" fill="#e2ddcc" />
<polygon points="698.56,114.10 702.59,112.37 702.59,121.91 698.56,123.64" fill="#ede8d9" />
<polygon points="689.49,140.04 703.10,134.21 703.10,138.68 689.49,144.51" fill="none" stroke="#aaa597" stroke-width="0.35"/><polygon points="690.85,140.35 693.30,139.30 693.30,141.98 690.85,143.03" fill="#9d988b" /><polygon points="695.20,138.48 697.11,137.67 697.11,140.35 695.20,141.17" fill="#9d988b" /><polygon points="699.01,136.85 701.46,135.80 701.46,138.48 699.01,139.53" fill="#9d988b" />
<polygon points="709.44,88.36 730.84,100.06 730.84,129.86 709.44,118.16" fill="#e5decc" stroke="#e5decc" stroke-width="0.5" stroke-linejoin="round"/>
<polygon points="730.84,100.06 756.04,89.26 756.04,119.06 730.84,129.86" fill="#e9e3d3" stroke="#e9e3d3" stroke-width="0.5" stroke-linejoin="round"/>
<polygon points="709.44,88.36 734.64,77.56 756.04,89.26 730.84,100.06" fill="#d1c7af" stroke="#d1c7af" stroke-width="0.5" stroke-linejoin="round"/>
<polygon points="719.52,84.04 723.55,82.31 744.95,94.01 740.92,95.74" fill="#e2ddcc" />
<polygon points="740.92,95.74 744.95,94.01 744.95,103.55 740.92,105.28" fill="#ede8d9" />
<polygon points="731.85,121.68 745.46,115.85 745.46,120.32 731.85,126.15" fill="none" stroke="#aaa597" stroke-width="0.35"/><polygon points="733.21,121.99 735.66,120.94 735.66,123.62 733.21,124.67" fill="#9d988b" /><polygon points="737.56,120.12 739.47,119.31 739.47,121.99 737.56,122.81" fill="#9d988b" /><polygon points="741.37,118.49 743.82,117.44 743.82,120.12 741.37,121.17" fill="#9d988b" />
<polygon points="751.80,70.00 773.20,81.70 773.20,111.50 751.80,99.80" fill="#e5decc" stroke="#e5decc" stroke-width="0.5" stroke-linejoin="round"/>
<polygon points="773.20,81.70 798.40,70.90 798.40,100.70 773.20,111.50" fill="#e9e3d3" stroke="#e9e3d3" stroke-width="0.5" stroke-linejoin="round"/>
<polygon points="751.80,70.00 777.00,59.20 798.40,70.90 773.20,81.70" fill="#d1c7af" stroke="#d1c7af" stroke-width="0.5" stroke-linejoin="round"/>
<polygon points="761.88,65.68 765.91,63.95 787.31,75.65 783.28,77.38" fill="#e2ddcc" />
<polygon points="783.28,77.38 787.31,75.65 787.31,85.19 783.28,86.92" fill="#ede8d9" />
<polygon points="774.21,103.32 787.82,97.49 787.82,101.96 774.21,107.79" fill="none" stroke="#aaa597" stroke-width="0.35"/><polygon points="775.57,103.63 778.02,102.58 778.02,105.26 775.57,106.31" fill="#9d988b" /><polygon points="779.92,101.76 781.83,100.95 781.83,103.63 779.92,104.45" fill="#9d988b" /><polygon points="783.73,100.13 786.18,99.08 786.18,101.76 783.73,102.81" fill="#9d988b" /></g>
<g fill="none" stroke="#e7e3d5" stroke-width="1.3"><polyline points="645,128.3 44.9,128.3 44.9,439.5 56,439.5"/><polyline points="549,184.8 117.3,184.8 117.3,240"/><polyline points="616,176 616,239.6 485.7,239.6 485.7,243"/></g>
<path d="M 117.3,253.6 L 112.3,237.6 Q 117.3,242.6 122.3,237.6 Z" fill="#e7e3d5"/>
<path d="M 485.7,256.8 L 480.7,240.8 Q 485.7,245.8 490.7,240.8 Z" fill="#e7e3d5"/>
<path d="M 68,439.5 L 52,434.5 Q 57,439.5 52,444.5 Z" fill="#e7e3d5"/>
<path d="M 172.9,266.8 L 178.9,266.8 L 178.9,289.8 L 172.9,289.8 L 172.9,273.5 L 167.6,275 L 167.6,270 Q 171.5,269 172.9,266.8 Z" fill="#c7bd9f"/>
<rect x="181.6" y="282.8" width="7.1" height="7.1" fill="#c7bd9f"/>
<g fill="#2b76ab">
<path d="M 264.6,427 C 271,427 276,429.3 278.2,434.4 L 266.4,437.3 L 266.4,433.5 Q 266.4,432.2 264.5,432.2 Q 262.6,432.2 262.6,434.5 L 262.6,437.9 Q 265,436.8 268,436.8 C 274.5,436.8 278.8,440.8 278.8,447.3 C 278.8,454.5 273,458.2 264.5,458.2 C 255.5,458.2 250.3,453 250.3,442.8 C 250.3,432.5 256,427 264.6,427 Z"/>
<path d="M 294.6,427 C 303.5,427 308.9,432.5 308.9,442.6 C 308.9,452.7 303.5,458.2 294.6,458.2 C 285.7,458.2 280.3,452.7 280.3,442.6 C 280.3,432.5 285.7,427 294.6,427 Z"/>
<path d="M 317.5,435.6 C 321.2,435.6 323.1,437.8 323.1,441.4 C 323.1,445 321.2,447.2 317.5,447.2 C 313.8,447.2 311.9,445 311.9,441.4 C 311.9,437.8 313.8,435.6 317.5,435.6 Z M 317.8,437.7 C 316.8,437.7 316.3,439 316.3,441.3 C 316.3,443.6 316.8,444.8 317.8,444.8 C 318.8,444.8 319.3,443.6 319.3,441.3 C 319.3,439 318.8,437.7 317.8,437.7 Z" fill-rule="evenodd"/>
<path d="M 333.1,444.5 C 336.9,444.5 338.8,446.7 338.8,450.4 C 338.8,454.1 336.9,456.4 333.1,456.4 C 329.3,456.4 327.3,454.1 327.3,450.4 C 327.3,446.7 329.3,444.5 333.1,444.5 Z M 333.2,447.2 C 332.2,447.2 331.7,448.3 331.7,450.4 C 331.7,452.5 332.2,453.7 333.2,453.7 C 334.2,453.7 334.7,452.5 334.7,450.4 C 334.7,448.3 334.2,447.2 333.2,447.2 Z" fill-rule="evenodd"/>
<polygon points="331.1,435.9 333.8,435.9 320.4,456.1 317.5,456.1"/>
</g>
<ellipse cx="264.5" cy="447.3" rx="1.9" ry="4.6" fill="#fff"/>
<ellipse cx="294.4" cy="442.4" rx="1.75" ry="9" fill="#fff"/>
<circle cx="116" cy="303" r="44" fill="#2a73a6"/>
<g fill="none" stroke="#55b3df" stroke-width="1.25" stroke-linecap="round">
<circle cx="117.8" cy="290.2" r="5.4"/><circle cx="134.7" cy="290.2" r="2.2"/>
<circle cx="107" cy="304.9" r="5.4"/><circle cx="140.1" cy="304.9" r="5.4"/>
<line x1="123.3" y1="290.2" x2="132.4" y2="290.2"/>
<line x1="112.6" y1="295.5" x2="109.8" y2="300.2"/>
<line x1="135.8" y1="292.2" x2="138.6" y2="299.6"/>
<line x1="111.2" y1="309.2" x2="115.6" y2="313"/>
<line x1="135.8" y1="309.2" x2="131" y2="313"/>
<circle cx="123.3" cy="312.6" r="3.6"/>
<path d="M 120,326.8 L 120,321 Q 121,317.3 124.5,317.3 Q 129,317.8 131.5,324 L 133,327"/>
<path d="M 105,318.8 L 118,318.8 L 120,326.8"/>
<path d="M 105,318.8 L 107,326.8"/>
<line x1="125" y1="325.5" x2="131" y2="323.5"/>
<line x1="100.5" y1="327.2" x2="148" y2="327.2"/>
<path d="M 116.6,288.4 L 115.4,290.2 L 116.6,292 M 119,288.4 L 120.2,290.2 L 119,292" stroke-width="0.9"/>
<path d="M 105.8,303.1 L 104.6,304.9 L 105.8,306.7 M 108.2,303.1 L 109.4,304.9 L 108.2,306.7" stroke-width="0.9"/>
<path d="M 138.9,303.1 L 137.7,304.9 L 138.9,306.7 M 141.3,303.1 L 142.5,304.9 L 141.3,306.7" stroke-width="0.9"/>
</g>
<polygon points="66.60,266.00 88.30,275.80 88.30,300.80 66.60,291.00" fill="#e6dfcd" stroke="#e6dfcd" stroke-width="0.5" stroke-linejoin="round"/>
<polygon points="88.30,275.80 105.50,264.90 105.50,289.90 88.30,300.80" fill="#ddd5c1" stroke="#ddd5c1" stroke-width="0.5" stroke-linejoin="round"/>
<polygon points="66.60,266.00 83.80,255.10 105.50,264.90 88.30,275.80" fill="#d1c8b0" stroke="#d1c8b0" stroke-width="0.5" stroke-linejoin="round"/>
<polygon points="75.28,269.92 78.75,271.49 95.95,260.59 92.48,259.02" fill="#e3dccb" />
<polygon points="75.28,269.92 78.75,271.49 78.75,279.49 75.28,277.92" fill="#ece7d8" />
<polygon points="74.41,288.53 86.56,294.02 86.56,298.02 74.41,292.53" fill="none" stroke="#aaa597" stroke-width="0.35"/><polygon points="75.63,289.88 77.81,290.86 77.81,293.26 75.63,292.28" fill="#9d988b" /><polygon points="79.52,291.63 81.22,292.40 81.22,294.80 79.52,294.03" fill="#9d988b" /><polygon points="82.92,293.17 85.11,294.16 85.11,296.56 82.92,295.57" fill="#9d988b" />
<circle cx="485.7" cy="303" r="44" fill="#2a73a6"/>
<g fill="none" stroke="#55b3df" stroke-width="1.25" stroke-linecap="round" stroke-linejoin="round">
<circle cx="495.8" cy="287.5" r="1.6"/>
<path d="M 496.5,282.2 A 5.3 5.3 0 0 1 501.2,287.5"/>
<path d="M 497,277.8 A 9.7 9.7 0 0 1 505.6,288"/>
<path d="M 497.5,273.4 A 14.1 14.1 0 0 1 510,288.5"/>
<circle cx="489.4" cy="296.5" r="2.6"/>
<circle cx="502.3" cy="306.6" r="1.9"/>
<path d="M 487,298 L 478.5,318 M 491.5,298.5 L 482.5,320"/>
<path d="M 491.5,294.8 L 502,303.8 M 490.6,299 L 500.5,308.2"/>
<path d="M 503.5,304.8 L 508,301.5 L 511.5,303.5 L 510.5,306 L 507.5,306 L 505.5,308.8 L 507.5,311.5 L 510.5,312 L 509,314.8 L 505,314.5 L 501.5,309.5"/>
<circle cx="477.9" cy="320.3" r="2.4"/>
<path d="M 479,300.5 Q 471.5,300 471,307 L 471.2,315 Q 470.5,318 471.2,322 L 471.2,330.5 L 485,330.5 L 485,320 Q 484.8,313 480,311"/>
<path d="M 479,300.5 L 482.5,303.5"/>
</g>
<polygon points="436.30,266.00 458.00,275.80 458.00,300.80 436.30,291.00" fill="#e6dfcd" stroke="#e6dfcd" stroke-width="0.5" stroke-linejoin="round"/>
<polygon points="458.00,275.80 475.20,264.90 475.20,289.90 458.00,300.80" fill="#ddd5c1" stroke="#ddd5c1" stroke-width="0.5" stroke-linejoin="round"/>
<polygon points="436.30,266.00 453.50,255.10 475.20,264.90 458.00,275.80" fill="#d1c8b0" stroke="#d1c8b0" stroke-width="0.5" stroke-linejoin="round"/>
<polygon points="444.98,269.92 448.45,271.49 465.65,260.59 462.18,259.02" fill="#e3dccb" />
<polygon points="444.98,269.92 448.45,271.49 448.45,279.49 444.98,277.92" fill="#ece7d8" />
<polygon points="444.11,288.53 456.26,294.02 456.26,298.02 444.11,292.53" fill="none" stroke="#aaa597" stroke-width="0.35"/><polygon points="445.33,289.88 447.51,290.86 447.51,293.26 445.33,292.28" fill="#9d988b" /><polygon points="449.22,291.63 450.92,292.40 450.92,294.80 449.22,294.03" fill="#9d988b" /><polygon points="452.62,293.17 454.81,294.16 454.81,296.56 452.62,295.57" fill="#9d988b" />
<circle cx="115.7" cy="427.6" r="44" fill="#2a73a6"/>
<g fill="none" stroke="#55b3df" stroke-width="1.2" stroke-linecap="round" stroke-linejoin="round">
<path d="M 109.6,430 Q 108.6,424 109.9,421.3 Q 112,417.6 116.7,417.6 Q 121.5,417.8 123.6,420.8 Q 125.4,424 124.6,430.2"/>
<path d="M 111.3,427 Q 111,437.6 117.3,437.8 Q 123.2,437.6 123,427"/>
<path d="M 111.3,426.5 Q 115.5,425.8 118.3,422.8 Q 120.5,425 123,425.3"/>
<path d="M 114,437 L 114,440.8 M 120.5,437 L 120.5,440.8"/>
<path d="M 101.5,450 L 101.8,446.5 Q 102.4,443.2 106,442.2 L 114,440.8 L 117.3,444 L 120.5,440.8 L 128.5,442.2 Q 132.3,443.2 132.8,446.5 L 133.2,450 Z"/>
<path d="M 117.3,444 L 117.3,450"/>
<path d="M 128.3,423.6 A 8.7 8.7 0 1 1 131.2,425.6 L 128.4,428.4 Z"/>
<circle cx="134.2" cy="417.4" r="5.3"/>
<path d="M 131.2,416.2 L 132.6,416.2 M 136,416.2 L 137.4,416.2 M 132.4,419.4 Q 134.2,420.3 136.2,419.4" stroke-width="0.8"/>
</g>
<polygon points="66.30,390.60 88.00,400.40 88.00,425.40 66.30,415.60" fill="#e6dfcd" stroke="#e6dfcd" stroke-width="0.5" stroke-linejoin="round"/>
<polygon points="88.00,400.40 105.20,389.50 105.20,414.50 88.00,425.40" fill="#ddd5c1" stroke="#ddd5c1" stroke-width="0.5" stroke-linejoin="round"/>
<polygon points="66.30,390.60 83.50,379.70 105.20,389.50 88.00,400.40" fill="#d1c8b0" stroke="#d1c8b0" stroke-width="0.5" stroke-linejoin="round"/>
<polygon points="74.98,394.52 78.45,396.09 95.65,385.19 92.18,383.62" fill="#e3dccb" />
<polygon points="74.98,394.52 78.45,396.09 78.45,404.09 74.98,402.52" fill="#ece7d8" />
<polygon points="74.11,413.13 86.26,418.62 86.26,422.62 74.11,417.13" fill="none" stroke="#aaa597" stroke-width="0.35"/><polygon points="75.33,414.48 77.51,415.46 77.51,417.86 75.33,416.88" fill="#9d988b" /><polygon points="79.22,416.23 80.92,417.00 80.92,419.40 79.22,418.63" fill="#9d988b" /><polygon points="82.62,417.77 84.81,418.76 84.81,421.16 82.62,420.17" fill="#9d988b" />
</svg>
<div class="t title" style="top:15.8px">Enterprises Need to</div>
<div class="t title" style="top:54px;letter-spacing:0.17px">Become Software Distribution Experts</div>

<div class="t hd" style="left:194px;top:272.5px">Internal repositories.</div>
<div class="t num" style="left:538.5px;top:262px">2</div><div style="position:absolute;left:561px;top:282.5px;width:7.4px;height:7.2px;background:#c7bd9f"></div>
<div class="t hd" style="left:573px;top:272.5px">Machines.</div>
<div class="t num" style="left:169.5px;top:391px">3</div><div style="position:absolute;left:192.1px;top:412.3px;width:7px;height:7.3px;background:#c7bd9f"></div>
<div class="t hd" style="left:204px;top:402.3px">External/ecosystem repositories.</div>
<div class="t p" style="left:171px;top:437.5px;color:#e9703d;font-size:18px;letter-spacing:0.1px">By 2025,</div>
<div class="t p" style="left:344px;top:440px"><b style="color:#555557;font-size:16px;letter-spacing:0px">of the G2000</b><span style="letter-spacing:-0.14px;margin-left:1.5px"> will have third-party developer ecosystems that</span></div>
<div class="t p" style="left:171px;top:463px">distribute components/artifacts to/from internal/external repositories (partners, customers,</div>
<div class="t p" style="left:171px;top:483px;letter-spacing:0.15px">channels, developer ecosystems).</div>
</body></html>
